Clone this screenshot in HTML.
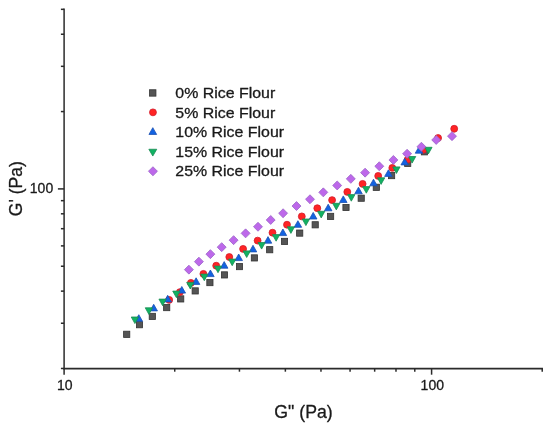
<!DOCTYPE html>
<html lang="en"><head><meta charset="utf-8"><title>G' vs G" plot</title>
<style>html,body{margin:0;padding:0;background:#fff;}body{width:550px;height:426px;overflow:hidden;}svg{display:block;}</style>
</head><body>
<svg width="550" height="426" viewBox="0 0 550 426">
<rect width="550" height="426" fill="#fff"/>
<g><rect x="123.60" y="331.20" width="6.20" height="6.20" fill="#555" stroke="#343434" stroke-width="0.8"/><rect x="136.40" y="321.60" width="6.20" height="6.20" fill="#555" stroke="#343434" stroke-width="0.8"/><rect x="149.20" y="313.30" width="6.20" height="6.20" fill="#555" stroke="#343434" stroke-width="0.8"/><rect x="163.60" y="304.50" width="6.20" height="6.20" fill="#555" stroke="#343434" stroke-width="0.8"/><rect x="177.60" y="295.80" width="6.20" height="6.20" fill="#555" stroke="#343434" stroke-width="0.8"/><rect x="192.10" y="287.80" width="6.20" height="6.20" fill="#555" stroke="#343434" stroke-width="0.8"/><rect x="206.80" y="279.50" width="6.20" height="6.20" fill="#555" stroke="#343434" stroke-width="0.8"/><rect x="221.40" y="271.80" width="6.20" height="6.20" fill="#555" stroke="#343434" stroke-width="0.8"/><rect x="236.40" y="263.50" width="6.20" height="6.20" fill="#555" stroke="#343434" stroke-width="0.8"/><rect x="251.30" y="254.80" width="6.20" height="6.20" fill="#555" stroke="#343434" stroke-width="0.8"/><rect x="266.60" y="246.60" width="6.20" height="6.20" fill="#555" stroke="#343434" stroke-width="0.8"/><rect x="281.40" y="238.30" width="6.20" height="6.20" fill="#555" stroke="#343434" stroke-width="0.8"/><rect x="296.60" y="230.00" width="6.20" height="6.20" fill="#555" stroke="#343434" stroke-width="0.8"/><rect x="312.10" y="221.70" width="6.20" height="6.20" fill="#555" stroke="#343434" stroke-width="0.8"/><rect x="327.50" y="213.30" width="6.20" height="6.20" fill="#555" stroke="#343434" stroke-width="0.8"/><rect x="342.90" y="204.40" width="6.20" height="6.20" fill="#555" stroke="#343434" stroke-width="0.8"/><rect x="358.10" y="195.10" width="6.20" height="6.20" fill="#555" stroke="#343434" stroke-width="0.8"/><rect x="373.20" y="184.20" width="6.20" height="6.20" fill="#555" stroke="#343434" stroke-width="0.8"/><rect x="388.50" y="172.50" width="6.20" height="6.20" fill="#555" stroke="#343434" stroke-width="0.8"/><rect x="404.60" y="160.30" width="6.20" height="6.20" fill="#555" stroke="#343434" stroke-width="0.8"/><rect x="421.30" y="148.70" width="6.20" height="6.20" fill="#555" stroke="#343434" stroke-width="0.8"/></g>
<g><circle cx="169.20" cy="299.90" r="3.45" fill="#ff2424" stroke="#d21c2c" stroke-width="0.8"/><circle cx="179.90" cy="292.10" r="3.45" fill="#ff2424" stroke="#d21c2c" stroke-width="0.8"/><circle cx="190.90" cy="282.90" r="3.45" fill="#ff2424" stroke="#d21c2c" stroke-width="0.8"/><circle cx="203.40" cy="273.90" r="3.45" fill="#ff2424" stroke="#d21c2c" stroke-width="0.8"/><circle cx="216.20" cy="265.70" r="3.45" fill="#ff2424" stroke="#d21c2c" stroke-width="0.8"/><circle cx="229.30" cy="257.00" r="3.45" fill="#ff2424" stroke="#d21c2c" stroke-width="0.8"/><circle cx="243.10" cy="248.90" r="3.45" fill="#ff2424" stroke="#d21c2c" stroke-width="0.8"/><circle cx="257.60" cy="240.60" r="3.45" fill="#ff2424" stroke="#d21c2c" stroke-width="0.8"/><circle cx="272.50" cy="232.70" r="3.45" fill="#ff2424" stroke="#d21c2c" stroke-width="0.8"/><circle cx="287.00" cy="224.70" r="3.45" fill="#ff2424" stroke="#d21c2c" stroke-width="0.8"/><circle cx="301.80" cy="216.40" r="3.45" fill="#ff2424" stroke="#d21c2c" stroke-width="0.8"/><circle cx="317.30" cy="208.20" r="3.45" fill="#ff2424" stroke="#d21c2c" stroke-width="0.8"/><circle cx="332.10" cy="200.10" r="3.45" fill="#ff2424" stroke="#d21c2c" stroke-width="0.8"/><circle cx="347.30" cy="191.90" r="3.45" fill="#ff2424" stroke="#d21c2c" stroke-width="0.8"/><circle cx="362.60" cy="183.90" r="3.45" fill="#ff2424" stroke="#d21c2c" stroke-width="0.8"/><circle cx="378.20" cy="175.90" r="3.45" fill="#ff2424" stroke="#d21c2c" stroke-width="0.8"/><circle cx="392.30" cy="167.90" r="3.45" fill="#ff2424" stroke="#d21c2c" stroke-width="0.8"/><circle cx="407.70" cy="159.60" r="3.45" fill="#ff2424" stroke="#d21c2c" stroke-width="0.8"/><circle cx="423.20" cy="149.80" r="3.45" fill="#ff2424" stroke="#d21c2c" stroke-width="0.8"/><circle cx="438.10" cy="138.00" r="3.45" fill="#ff2424" stroke="#d21c2c" stroke-width="0.8"/><circle cx="454.20" cy="128.80" r="3.45" fill="#ff2424" stroke="#d21c2c" stroke-width="0.8"/></g>
<g><polygon points="138.80,314.71 142.56,321.30 135.04,321.30" fill="#1262e2" stroke="#1c50b2" stroke-width="0.8" stroke-linejoin="miter"/><polygon points="153.70,304.31 157.46,310.90 149.94,310.90" fill="#1262e2" stroke="#1c50b2" stroke-width="0.8" stroke-linejoin="miter"/><polygon points="167.70,295.31 171.46,301.90 163.94,301.90" fill="#1262e2" stroke="#1c50b2" stroke-width="0.8" stroke-linejoin="miter"/><polygon points="181.80,286.51 185.56,293.10 178.04,293.10" fill="#1262e2" stroke="#1c50b2" stroke-width="0.8" stroke-linejoin="miter"/><polygon points="196.10,277.81 199.86,284.40 192.34,284.40" fill="#1262e2" stroke="#1c50b2" stroke-width="0.8" stroke-linejoin="miter"/><polygon points="210.40,270.01 214.16,276.60 206.64,276.60" fill="#1262e2" stroke="#1c50b2" stroke-width="0.8" stroke-linejoin="miter"/><polygon points="224.20,261.61 227.96,268.20 220.44,268.20" fill="#1262e2" stroke="#1c50b2" stroke-width="0.8" stroke-linejoin="miter"/><polygon points="238.70,254.01 242.46,260.60 234.94,260.60" fill="#1262e2" stroke="#1c50b2" stroke-width="0.8" stroke-linejoin="miter"/><polygon points="253.00,245.31 256.76,251.90 249.24,251.90" fill="#1262e2" stroke="#1c50b2" stroke-width="0.8" stroke-linejoin="miter"/><polygon points="268.00,236.61 271.76,243.20 264.24,243.20" fill="#1262e2" stroke="#1c50b2" stroke-width="0.8" stroke-linejoin="miter"/><polygon points="282.90,229.01 286.66,235.60 279.14,235.60" fill="#1262e2" stroke="#1c50b2" stroke-width="0.8" stroke-linejoin="miter"/><polygon points="297.90,220.71 301.66,227.30 294.14,227.30" fill="#1262e2" stroke="#1c50b2" stroke-width="0.8" stroke-linejoin="miter"/><polygon points="313.20,212.41 316.96,219.00 309.44,219.00" fill="#1262e2" stroke="#1c50b2" stroke-width="0.8" stroke-linejoin="miter"/><polygon points="328.20,204.21 331.96,210.80 324.44,210.80" fill="#1262e2" stroke="#1c50b2" stroke-width="0.8" stroke-linejoin="miter"/><polygon points="343.30,195.91 347.06,202.50 339.54,202.50" fill="#1262e2" stroke="#1c50b2" stroke-width="0.8" stroke-linejoin="miter"/><polygon points="358.50,187.21 362.26,193.80 354.74,193.80" fill="#1262e2" stroke="#1c50b2" stroke-width="0.8" stroke-linejoin="miter"/><polygon points="373.50,179.21 377.26,185.80 369.74,185.80" fill="#1262e2" stroke="#1c50b2" stroke-width="0.8" stroke-linejoin="miter"/><polygon points="388.40,169.81 392.16,176.40 384.64,176.40" fill="#1262e2" stroke="#1c50b2" stroke-width="0.8" stroke-linejoin="miter"/><polygon points="404.70,158.31 408.46,164.90 400.94,164.90" fill="#1262e2" stroke="#1c50b2" stroke-width="0.8" stroke-linejoin="miter"/><polygon points="419.00,146.61 422.76,153.20 415.24,153.20" fill="#1262e2" stroke="#1c50b2" stroke-width="0.8" stroke-linejoin="miter"/></g>
<g><polygon points="134.90,323.58 138.57,317.00 131.23,317.00" fill="#10b262" stroke="#1a8c54" stroke-width="0.8" stroke-linejoin="miter"/><polygon points="148.90,314.38 152.57,307.80 145.23,307.80" fill="#10b262" stroke="#1a8c54" stroke-width="0.8" stroke-linejoin="miter"/><polygon points="162.60,305.68 166.27,299.10 158.93,299.10" fill="#10b262" stroke="#1a8c54" stroke-width="0.8" stroke-linejoin="miter"/><polygon points="176.40,297.68 180.07,291.10 172.73,291.10" fill="#10b262" stroke="#1a8c54" stroke-width="0.8" stroke-linejoin="miter"/><polygon points="190.30,288.98 193.97,282.40 186.63,282.40" fill="#10b262" stroke="#1a8c54" stroke-width="0.8" stroke-linejoin="miter"/><polygon points="204.30,280.68 207.97,274.10 200.63,274.10" fill="#10b262" stroke="#1a8c54" stroke-width="0.8" stroke-linejoin="miter"/><polygon points="218.00,272.68 221.67,266.10 214.33,266.10" fill="#10b262" stroke="#1a8c54" stroke-width="0.8" stroke-linejoin="miter"/><polygon points="232.20,265.68 235.87,259.10 228.53,259.10" fill="#10b262" stroke="#1a8c54" stroke-width="0.8" stroke-linejoin="miter"/><polygon points="246.70,257.48 250.37,250.90 243.03,250.90" fill="#10b262" stroke="#1a8c54" stroke-width="0.8" stroke-linejoin="miter"/><polygon points="261.60,249.08 265.27,242.50 257.93,242.50" fill="#10b262" stroke="#1a8c54" stroke-width="0.8" stroke-linejoin="miter"/><polygon points="276.10,241.18 279.77,234.60 272.43,234.60" fill="#10b262" stroke="#1a8c54" stroke-width="0.8" stroke-linejoin="miter"/><polygon points="290.90,233.38 294.57,226.80 287.23,226.80" fill="#10b262" stroke="#1a8c54" stroke-width="0.8" stroke-linejoin="miter"/><polygon points="305.90,225.58 309.57,219.00 302.23,219.00" fill="#10b262" stroke="#1a8c54" stroke-width="0.8" stroke-linejoin="miter"/><polygon points="321.20,217.88 324.87,211.30 317.53,211.30" fill="#10b262" stroke="#1a8c54" stroke-width="0.8" stroke-linejoin="miter"/><polygon points="336.30,209.88 339.97,203.30 332.63,203.30" fill="#10b262" stroke="#1a8c54" stroke-width="0.8" stroke-linejoin="miter"/><polygon points="351.30,201.18 354.97,194.60 347.63,194.60" fill="#10b262" stroke="#1a8c54" stroke-width="0.8" stroke-linejoin="miter"/><polygon points="366.30,193.18 369.97,186.60 362.63,186.60" fill="#10b262" stroke="#1a8c54" stroke-width="0.8" stroke-linejoin="miter"/><polygon points="381.10,184.38 384.77,177.80 377.43,177.80" fill="#10b262" stroke="#1a8c54" stroke-width="0.8" stroke-linejoin="miter"/><polygon points="396.40,173.48 400.07,166.90 392.73,166.90" fill="#10b262" stroke="#1a8c54" stroke-width="0.8" stroke-linejoin="miter"/><polygon points="412.10,163.08 415.77,156.50 408.43,156.50" fill="#10b262" stroke="#1a8c54" stroke-width="0.8" stroke-linejoin="miter"/><polygon points="428.40,153.88 432.07,147.30 424.73,147.30" fill="#10b262" stroke="#1a8c54" stroke-width="0.8" stroke-linejoin="miter"/></g>
<g><polygon points="188.90,265.17 193.38,269.65 188.90,274.13 184.42,269.65" fill="#bd68ea" stroke="#9a66c8" stroke-width="0.8"/><polygon points="198.90,257.17 203.38,261.65 198.90,266.13 194.42,261.65" fill="#bd68ea" stroke="#9a66c8" stroke-width="0.8"/><polygon points="210.40,249.67 214.88,254.15 210.40,258.63 205.92,254.15" fill="#bd68ea" stroke="#9a66c8" stroke-width="0.8"/><polygon points="221.70,242.67 226.18,247.15 221.70,251.63 217.22,247.15" fill="#bd68ea" stroke="#9a66c8" stroke-width="0.8"/><polygon points="233.60,235.67 238.08,240.15 233.60,244.63 229.12,240.15" fill="#bd68ea" stroke="#9a66c8" stroke-width="0.8"/><polygon points="245.60,228.87 250.08,233.35 245.60,237.83 241.12,233.35" fill="#bd68ea" stroke="#9a66c8" stroke-width="0.8"/><polygon points="258.00,222.27 262.48,226.75 258.00,231.23 253.52,226.75" fill="#bd68ea" stroke="#9a66c8" stroke-width="0.8"/><polygon points="270.70,215.47 275.18,219.95 270.70,224.43 266.22,219.95" fill="#bd68ea" stroke="#9a66c8" stroke-width="0.8"/><polygon points="283.10,208.77 287.58,213.25 283.10,217.73 278.62,213.25" fill="#bd68ea" stroke="#9a66c8" stroke-width="0.8"/><polygon points="296.50,201.57 300.98,206.05 296.50,210.53 292.02,206.05" fill="#bd68ea" stroke="#9a66c8" stroke-width="0.8"/><polygon points="310.00,194.77 314.48,199.25 310.00,203.73 305.52,199.25" fill="#bd68ea" stroke="#9a66c8" stroke-width="0.8"/><polygon points="323.30,187.87 327.78,192.35 323.30,196.83 318.82,192.35" fill="#bd68ea" stroke="#9a66c8" stroke-width="0.8"/><polygon points="337.20,180.97 341.68,185.45 337.20,189.93 332.72,185.45" fill="#bd68ea" stroke="#9a66c8" stroke-width="0.8"/><polygon points="350.80,174.37 355.28,178.85 350.80,183.33 346.32,178.85" fill="#bd68ea" stroke="#9a66c8" stroke-width="0.8"/><polygon points="365.10,168.17 369.58,172.65 365.10,177.13 360.62,172.65" fill="#bd68ea" stroke="#9a66c8" stroke-width="0.8"/><polygon points="379.30,161.77 383.78,166.25 379.30,170.73 374.82,166.25" fill="#bd68ea" stroke="#9a66c8" stroke-width="0.8"/><polygon points="393.40,155.47 397.88,159.95 393.40,164.43 388.92,159.95" fill="#bd68ea" stroke="#9a66c8" stroke-width="0.8"/><polygon points="407.10,149.27 411.58,153.75 407.10,158.23 402.62,153.75" fill="#bd68ea" stroke="#9a66c8" stroke-width="0.8"/><polygon points="421.40,142.27 425.88,146.75 421.40,151.23 416.92,146.75" fill="#bd68ea" stroke="#9a66c8" stroke-width="0.8"/><polygon points="436.20,135.47 440.68,139.95 436.20,144.43 431.72,139.95" fill="#bd68ea" stroke="#9a66c8" stroke-width="0.8"/><polygon points="452.00,131.67 456.48,136.15 452.00,140.63 447.52,136.15" fill="#bd68ea" stroke="#9a66c8" stroke-width="0.8"/></g>
<g stroke="#2b2b2b" stroke-width="1.5" fill="none" stroke-linecap="butt">
<line x1="64.1" y1="8.58" x2="64.1" y2="369.25"/>
<line x1="63.35" y1="368.65" x2="542.98" y2="368.65" stroke-width="1.8"/>
<line x1="60.90" y1="368.47" x2="64.1" y2="368.47"/>
<line x1="60.90" y1="323.23" x2="64.1" y2="323.23"/>
<line x1="60.90" y1="291.13" x2="64.1" y2="291.13"/>
<line x1="60.90" y1="266.23" x2="64.1" y2="266.23"/>
<line x1="60.90" y1="245.89" x2="64.1" y2="245.89"/>
<line x1="60.90" y1="228.69" x2="64.1" y2="228.69"/>
<line x1="60.90" y1="213.80" x2="64.1" y2="213.80"/>
<line x1="60.90" y1="200.66" x2="64.1" y2="200.66"/>
<line x1="57.90" y1="188.90" x2="64.1" y2="188.90"/>
<line x1="60.90" y1="111.57" x2="64.1" y2="111.57"/>
<line x1="60.90" y1="66.33" x2="64.1" y2="66.33"/>
<line x1="60.90" y1="34.23" x2="64.1" y2="34.23"/>
<line x1="60.90" y1="9.33" x2="64.1" y2="9.33"/>
<line x1="64.10" y1="368.5" x2="64.10" y2="374.70"/>
<line x1="174.73" y1="368.5" x2="174.73" y2="371.70"/>
<line x1="239.44" y1="368.5" x2="239.44" y2="371.70"/>
<line x1="285.36" y1="368.5" x2="285.36" y2="371.70"/>
<line x1="320.97" y1="368.5" x2="320.97" y2="371.70"/>
<line x1="350.07" y1="368.5" x2="350.07" y2="371.70"/>
<line x1="374.67" y1="368.5" x2="374.67" y2="371.70"/>
<line x1="395.99" y1="368.5" x2="395.99" y2="371.70"/>
<line x1="414.78" y1="368.5" x2="414.78" y2="371.70"/>
<line x1="431.60" y1="368.5" x2="431.60" y2="374.70"/>
<line x1="542.23" y1="368.5" x2="542.23" y2="371.70"/>
</g>
<g font-family="Liberation Sans, sans-serif" fill="#1a1a1a" stroke="#1a1a1a" stroke-width="0.3" stroke-linejoin="round">
<text x="53.2" y="192.9" font-size="14" text-anchor="end">100</text>
<text x="64.7" y="389.9" font-size="14" text-anchor="middle">10</text>
<text x="432.3" y="390.2" font-size="14" text-anchor="middle">100</text>
<text x="303.5" y="418.2" font-size="17.7" text-anchor="middle">G" (Pa)</text>
<text transform="translate(22,188.7) rotate(-90)" font-size="17.5" text-anchor="middle">G' (Pa)</text>
<text transform="translate(175.3,98.00) scale(1.09,1)" font-size="14.6">0% Rice Flour</text>
<text transform="translate(175.3,117.55) scale(1.09,1)" font-size="14.6">5% Rice Flour</text>
<text transform="translate(175.3,137.10) scale(1.09,1)" font-size="14.6">10% Rice Flour</text>
<text transform="translate(175.3,156.65) scale(1.09,1)" font-size="14.6">15% Rice Flour</text>
<text transform="translate(175.3,176.20) scale(1.09,1)" font-size="14.6">25% Rice Flour</text>
</g>
<rect x="149.55" y="89.75" width="6.40" height="6.40" fill="#555" stroke="#343434" stroke-width="0.8"/>
<circle cx="152.95" cy="112.35" r="3.45" fill="#ff2424" stroke="#d21c2c" stroke-width="0.8"/>
<polygon points="152.80,127.66 156.66,134.45 148.94,134.45" fill="#1262e2" stroke="#1c50b2" stroke-width="0.8" stroke-linejoin="miter"/>
<polygon points="152.80,156.05 156.75,149.25 148.85,149.25" fill="#10b262" stroke="#1a8c54" stroke-width="0.8" stroke-linejoin="miter"/>
<polygon points="152.95,166.72 157.48,171.25 152.95,175.78 148.42,171.25" fill="#bd68ea" stroke="#9a66c8" stroke-width="0.8"/>
</svg>
</body></html>
